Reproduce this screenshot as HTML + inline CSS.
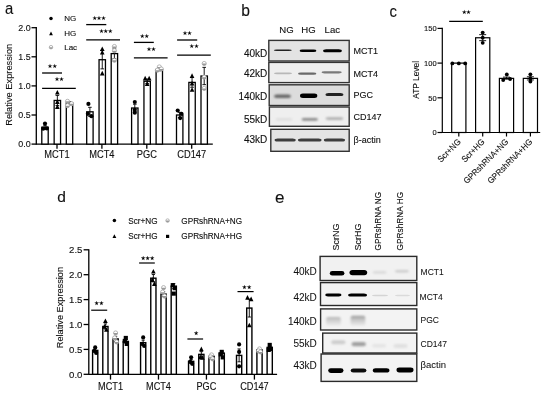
<!DOCTYPE html>
<html><head><meta charset="utf-8"><style>
html,body{margin:0;padding:0;background:#fff;}
svg{display:block;filter:blur(0.3px);}
text{font-family:'Liberation Sans', Arial, sans-serif;stroke:#111;stroke-width:0.12px;}
</style></head><body>
<svg width="550" height="393" viewBox="0 0 550 393">
<defs>
<filter id="b4" x="-20%" y="-100%" width="140%" height="300%"><feGaussianBlur stdDeviation="0.4"/></filter>
<filter id="b5" x="-20%" y="-100%" width="140%" height="300%"><feGaussianBlur stdDeviation="0.5"/></filter>
<filter id="b6" x="-20%" y="-100%" width="140%" height="300%"><feGaussianBlur stdDeviation="0.6"/></filter>
<filter id="b7" x="-20%" y="-100%" width="140%" height="300%"><feGaussianBlur stdDeviation="0.7"/></filter>
<filter id="b8" x="-20%" y="-100%" width="140%" height="300%"><feGaussianBlur stdDeviation="0.8"/></filter>
<linearGradient id="sm1" x1="0" y1="0" x2="0" y2="1"><stop offset="0" stop-color="#b4b4b4"/><stop offset="0.35" stop-color="#cfcfcf"/><stop offset="1" stop-color="#f0f0f0"/></linearGradient>
<linearGradient id="sm2" x1="0" y1="0" x2="0" y2="1"><stop offset="0" stop-color="#9a9a9a"/><stop offset="0.35" stop-color="#c4c4c4"/><stop offset="1" stop-color="#eeeeee"/></linearGradient>
<filter id="b10" x="-20%" y="-100%" width="140%" height="300%"><feGaussianBlur stdDeviation="1.0"/></filter>
</defs>
<rect width="550" height="393" fill="#fff"/>
<text x="0" y="0" font-size="16" text-anchor="start" fill="#111" transform="translate(5.10,14.20) scale(0.93,1)">a</text>
<line x1="36.30" y1="27.10" x2="36.30" y2="144.70" stroke="#000" stroke-width="1.3"/>
<line x1="31.50" y1="144.10" x2="36.30" y2="144.10" stroke="#000" stroke-width="1.3"/>
<text x="0" y="0" font-size="9.8" text-anchor="end" fill="#111" transform="translate(30.60,147.30) scale(0.91,1)">0.0</text>
<line x1="31.50" y1="115.00" x2="36.30" y2="115.00" stroke="#000" stroke-width="1.3"/>
<text x="0" y="0" font-size="9.8" text-anchor="end" fill="#111" transform="translate(30.60,118.20) scale(0.91,1)">0.5</text>
<line x1="31.50" y1="85.90" x2="36.30" y2="85.90" stroke="#000" stroke-width="1.3"/>
<text x="0" y="0" font-size="9.8" text-anchor="end" fill="#111" transform="translate(30.60,89.10) scale(0.91,1)">1.0</text>
<line x1="31.50" y1="56.80" x2="36.30" y2="56.80" stroke="#000" stroke-width="1.3"/>
<text x="0" y="0" font-size="9.8" text-anchor="end" fill="#111" transform="translate(30.60,60.00) scale(0.91,1)">1.5</text>
<line x1="31.50" y1="27.70" x2="36.30" y2="27.70" stroke="#000" stroke-width="1.3"/>
<text x="0" y="0" font-size="9.8" text-anchor="end" fill="#111" transform="translate(30.60,30.90) scale(0.91,1)">2.0</text>
<line x1="36.30" y1="144.10" x2="212.80" y2="144.10" stroke="#000" stroke-width="1.3"/>
<line x1="57.00" y1="144.10" x2="57.00" y2="148.70" stroke="#000" stroke-width="1.3"/>
<text x="0" y="0" font-size="10.0" text-anchor="middle" fill="#111" transform="translate(57.00,158.00) scale(0.93,1)">MCT1</text>
<line x1="101.90" y1="144.10" x2="101.90" y2="148.70" stroke="#000" stroke-width="1.3"/>
<text x="0" y="0" font-size="10.0" text-anchor="middle" fill="#111" transform="translate(101.90,158.00) scale(0.93,1)">MCT4</text>
<line x1="146.80" y1="144.10" x2="146.80" y2="148.70" stroke="#000" stroke-width="1.3"/>
<text x="0" y="0" font-size="10.0" text-anchor="middle" fill="#111" transform="translate(146.80,158.00) scale(0.93,1)">PGC</text>
<line x1="191.70" y1="144.10" x2="191.70" y2="148.70" stroke="#000" stroke-width="1.3"/>
<text x="0" y="0" font-size="10.0" text-anchor="middle" fill="#111" transform="translate(191.70,158.00) scale(0.93,1)">CD147</text>
<text x="0.00" y="0.00" font-size="9.3" text-anchor="middle" fill="#111" transform="translate(11.6,84.8) rotate(-90) scale(1,0.92)">Relative Expression</text>
<circle cx="51.00" cy="18.40" r="1.76" fill="#000"/>
<text x="64.20" y="21.40" font-size="8.0" text-anchor="start" fill="#111" >NG</text>
<path d="M51.00,31.43L52.89,35.21L49.11,35.21Z" fill="#000"/>
<text x="64.20" y="36.30" font-size="8.0" text-anchor="start" fill="#111" >HG</text>
<circle cx="51.00" cy="47.20" r="1.76" fill="#fff" stroke="#999" stroke-width="0.7"/>
<path d="M49.24,47.20A1.76,1.76 0 0 0 52.76,47.20Z" fill="#999"/>
<text x="64.20" y="50.10" font-size="8.0" text-anchor="start" fill="#111" >Lac</text>
<rect x="41.80" y="127.22" width="6.40" height="16.88" fill="#fff" stroke="#000" stroke-width="1.3"/>
<line x1="45.00" y1="125.25" x2="45.00" y2="129.19" stroke="#000" stroke-width="0.9"/>
<line x1="43.20" y1="125.25" x2="46.80" y2="125.25" stroke="#000" stroke-width="0.9"/>
<line x1="43.20" y1="129.19" x2="46.80" y2="129.19" stroke="#000" stroke-width="0.9"/>
<circle cx="45.00" cy="123.61" r="2.08" fill="#000"/>
<circle cx="43.20" cy="128.68" r="2.08" fill="#000"/>
<circle cx="46.80" cy="128.39" r="2.08" fill="#000"/>
<rect x="54.15" y="100.45" width="6.40" height="43.65" fill="#fff" stroke="#000" stroke-width="1.3"/>
<line x1="57.35" y1="95.42" x2="57.35" y2="105.48" stroke="#000" stroke-width="0.9"/>
<line x1="55.55" y1="95.42" x2="59.15" y2="95.42" stroke="#000" stroke-width="0.9"/>
<line x1="55.55" y1="105.48" x2="59.15" y2="105.48" stroke="#000" stroke-width="0.9"/>
<path d="M57.35,89.90L59.69,94.58L55.01,94.58Z" fill="#000"/>
<path d="M57.35,99.21L59.69,103.89L55.01,103.89Z" fill="#000"/>
<path d="M57.35,104.22L59.69,108.90L55.01,108.90Z" fill="#000"/>
<rect x="66.30" y="103.07" width="6.40" height="41.03" fill="#fff" stroke="#000" stroke-width="1.3"/>
<line x1="69.50" y1="101.56" x2="69.50" y2="104.58" stroke="#000" stroke-width="0.9"/>
<line x1="67.70" y1="101.56" x2="71.30" y2="101.56" stroke="#000" stroke-width="0.9"/>
<line x1="67.70" y1="104.58" x2="71.30" y2="104.58" stroke="#000" stroke-width="0.9"/>
<circle cx="67.50" cy="101.32" r="2.08" fill="#fff" stroke="#999" stroke-width="0.7"/>
<path d="M65.42,101.32A2.08,2.08 0 0 0 69.58,101.32Z" fill="#999"/>
<circle cx="71.50" cy="103.65" r="2.08" fill="#fff" stroke="#999" stroke-width="0.7"/>
<path d="M69.42,103.65A2.08,2.08 0 0 0 73.58,103.65Z" fill="#999"/>
<circle cx="67.50" cy="105.69" r="2.08" fill="#fff" stroke="#999" stroke-width="0.7"/>
<path d="M65.42,105.69A2.08,2.08 0 0 0 69.58,105.69Z" fill="#999"/>
<rect x="86.70" y="111.80" width="6.40" height="32.30" fill="#fff" stroke="#000" stroke-width="1.3"/>
<line x1="89.90" y1="107.30" x2="89.90" y2="116.30" stroke="#000" stroke-width="0.9"/>
<line x1="88.10" y1="107.30" x2="91.70" y2="107.30" stroke="#000" stroke-width="0.9"/>
<line x1="88.10" y1="116.30" x2="91.70" y2="116.30" stroke="#000" stroke-width="0.9"/>
<circle cx="88.40" cy="103.94" r="2.08" fill="#000"/>
<circle cx="87.90" cy="113.84" r="2.08" fill="#000"/>
<circle cx="91.40" cy="116.16" r="2.08" fill="#000"/>
<rect x="99.05" y="59.71" width="6.40" height="84.39" fill="#fff" stroke="#000" stroke-width="1.3"/>
<line x1="102.25" y1="50.55" x2="102.25" y2="68.87" stroke="#000" stroke-width="0.9"/>
<line x1="100.45" y1="50.55" x2="104.05" y2="50.55" stroke="#000" stroke-width="0.9"/>
<line x1="100.45" y1="68.87" x2="104.05" y2="68.87" stroke="#000" stroke-width="0.9"/>
<path d="M102.25,46.43L104.59,51.11L99.91,51.11Z" fill="#000"/>
<path d="M102.25,49.92L104.59,54.60L99.91,54.60Z" fill="#000"/>
<path d="M102.25,70.87L104.59,75.55L99.91,75.55Z" fill="#000"/>
<rect x="111.20" y="53.60" width="6.40" height="90.50" fill="#fff" stroke="#000" stroke-width="1.3"/>
<line x1="114.40" y1="48.70" x2="114.40" y2="58.50" stroke="#000" stroke-width="0.9"/>
<line x1="112.60" y1="48.70" x2="116.20" y2="48.70" stroke="#000" stroke-width="0.9"/>
<line x1="112.60" y1="58.50" x2="116.20" y2="58.50" stroke="#000" stroke-width="0.9"/>
<circle cx="114.40" cy="46.50" r="2.08" fill="#fff" stroke="#999" stroke-width="0.7"/>
<path d="M112.32,46.50A2.08,2.08 0 0 0 116.48,46.50Z" fill="#999"/>
<circle cx="114.40" cy="50.69" r="2.08" fill="#fff" stroke="#999" stroke-width="0.7"/>
<path d="M112.32,50.69A2.08,2.08 0 0 0 116.48,50.69Z" fill="#999"/>
<circle cx="114.40" cy="60.29" r="2.08" fill="#fff" stroke="#999" stroke-width="0.7"/>
<path d="M112.32,60.29A2.08,2.08 0 0 0 116.48,60.29Z" fill="#999"/>
<rect x="131.60" y="108.02" width="6.40" height="36.08" fill="#fff" stroke="#000" stroke-width="1.3"/>
<line x1="134.80" y1="104.20" x2="134.80" y2="111.83" stroke="#000" stroke-width="0.9"/>
<line x1="133.00" y1="104.20" x2="136.60" y2="104.20" stroke="#000" stroke-width="0.9"/>
<line x1="133.00" y1="111.83" x2="136.60" y2="111.83" stroke="#000" stroke-width="0.9"/>
<circle cx="134.80" cy="102.02" r="2.08" fill="#000"/>
<circle cx="134.80" cy="109.76" r="2.08" fill="#000"/>
<circle cx="134.80" cy="112.67" r="2.08" fill="#000"/>
<rect x="143.95" y="81.24" width="6.40" height="62.86" fill="#fff" stroke="#000" stroke-width="1.3"/>
<line x1="147.15" y1="79.03" x2="147.15" y2="83.46" stroke="#000" stroke-width="0.9"/>
<line x1="145.35" y1="79.03" x2="148.95" y2="79.03" stroke="#000" stroke-width="0.9"/>
<line x1="145.35" y1="83.46" x2="148.95" y2="83.46" stroke="#000" stroke-width="0.9"/>
<path d="M145.15,75.82L147.49,80.50L142.81,80.50Z" fill="#000"/>
<path d="M149.15,75.82L151.49,80.50L146.81,80.50Z" fill="#000"/>
<path d="M147.15,81.35L149.49,86.03L144.81,86.03Z" fill="#000"/>
<rect x="156.10" y="69.60" width="6.40" height="74.50" fill="#fff" stroke="#000" stroke-width="1.3"/>
<line x1="159.30" y1="68.46" x2="159.30" y2="70.75" stroke="#000" stroke-width="0.9"/>
<line x1="157.50" y1="68.46" x2="161.10" y2="68.46" stroke="#000" stroke-width="0.9"/>
<line x1="157.50" y1="70.75" x2="161.10" y2="70.75" stroke="#000" stroke-width="0.9"/>
<circle cx="159.30" cy="66.93" r="2.08" fill="#fff" stroke="#999" stroke-width="0.7"/>
<path d="M157.22,66.93A2.08,2.08 0 0 0 161.38,66.93Z" fill="#999"/>
<circle cx="161.30" cy="69.02" r="2.08" fill="#fff" stroke="#999" stroke-width="0.7"/>
<path d="M159.22,69.02A2.08,2.08 0 0 0 163.38,69.02Z" fill="#999"/>
<circle cx="157.30" cy="70.19" r="2.08" fill="#fff" stroke="#999" stroke-width="0.7"/>
<path d="M155.22,70.19A2.08,2.08 0 0 0 159.38,70.19Z" fill="#999"/>
<rect x="176.50" y="115.00" width="6.40" height="29.10" fill="#fff" stroke="#000" stroke-width="1.3"/>
<line x1="179.70" y1="112.37" x2="179.70" y2="117.63" stroke="#000" stroke-width="0.9"/>
<line x1="177.90" y1="112.37" x2="181.50" y2="112.37" stroke="#000" stroke-width="0.9"/>
<line x1="177.90" y1="117.63" x2="181.50" y2="117.63" stroke="#000" stroke-width="0.9"/>
<circle cx="177.70" cy="110.52" r="2.08" fill="#000"/>
<circle cx="181.50" cy="113.72" r="2.08" fill="#000"/>
<circle cx="180.20" cy="118.08" r="2.08" fill="#000"/>
<rect x="188.85" y="82.41" width="6.40" height="61.69" fill="#fff" stroke="#000" stroke-width="1.3"/>
<line x1="192.05" y1="77.56" x2="192.05" y2="87.25" stroke="#000" stroke-width="0.9"/>
<line x1="190.25" y1="77.56" x2="193.85" y2="77.56" stroke="#000" stroke-width="0.9"/>
<line x1="190.25" y1="87.25" x2="193.85" y2="87.25" stroke="#000" stroke-width="0.9"/>
<path d="M192.05,73.20L194.39,77.88L189.71,77.88Z" fill="#000"/>
<path d="M192.05,80.76L194.39,85.44L189.71,85.44Z" fill="#000"/>
<path d="M192.05,87.17L194.39,91.85L189.71,91.85Z" fill="#000"/>
<rect x="201.00" y="76.01" width="6.40" height="68.09" fill="#fff" stroke="#000" stroke-width="1.3"/>
<line x1="204.20" y1="67.36" x2="204.20" y2="84.65" stroke="#000" stroke-width="0.9"/>
<line x1="202.40" y1="67.36" x2="206.00" y2="67.36" stroke="#000" stroke-width="0.9"/>
<line x1="202.40" y1="84.65" x2="206.00" y2="84.65" stroke="#000" stroke-width="0.9"/>
<circle cx="204.20" cy="63.49" r="2.08" fill="#fff" stroke="#999" stroke-width="0.7"/>
<path d="M202.12,63.49A2.08,2.08 0 0 0 206.28,63.49Z" fill="#999"/>
<circle cx="204.20" cy="77.17" r="2.08" fill="#fff" stroke="#999" stroke-width="0.7"/>
<path d="M202.12,77.17A2.08,2.08 0 0 0 206.28,77.17Z" fill="#999"/>
<circle cx="204.20" cy="88.40" r="2.08" fill="#fff" stroke="#999" stroke-width="0.7"/>
<path d="M202.12,88.40A2.08,2.08 0 0 0 206.28,88.40Z" fill="#999"/>
<line x1="42.10" y1="73.00" x2="62.00" y2="73.00" stroke="#000" stroke-width="1.3"/>
<text x="50.00" y="68.12" font-size="5.6" text-anchor="middle" fill="#000" style="font-family:'DejaVu Sans',sans-serif">&#9733;</text>
<text x="54.70" y="68.12" font-size="5.6" text-anchor="middle" fill="#000" style="font-family:'DejaVu Sans',sans-serif">&#9733;</text>
<line x1="42.10" y1="88.30" x2="75.80" y2="88.30" stroke="#000" stroke-width="1.3"/>
<text x="56.90" y="81.12" font-size="5.6" text-anchor="middle" fill="#000" style="font-family:'DejaVu Sans',sans-serif">&#9733;</text>
<text x="61.40" y="81.12" font-size="5.6" text-anchor="middle" fill="#000" style="font-family:'DejaVu Sans',sans-serif">&#9733;</text>
<line x1="86.20" y1="24.60" x2="106.30" y2="24.60" stroke="#000" stroke-width="1.3"/>
<text x="94.70" y="19.92" font-size="5.6" text-anchor="middle" fill="#000" style="font-family:'DejaVu Sans',sans-serif">&#9733;</text>
<text x="99.00" y="19.92" font-size="5.6" text-anchor="middle" fill="#000" style="font-family:'DejaVu Sans',sans-serif">&#9733;</text>
<text x="103.60" y="19.92" font-size="5.6" text-anchor="middle" fill="#000" style="font-family:'DejaVu Sans',sans-serif">&#9733;</text>
<line x1="86.20" y1="39.80" x2="120.00" y2="39.80" stroke="#000" stroke-width="1.3"/>
<text x="101.50" y="33.12" font-size="5.6" text-anchor="middle" fill="#000" style="font-family:'DejaVu Sans',sans-serif">&#9733;</text>
<text x="105.70" y="33.12" font-size="5.6" text-anchor="middle" fill="#000" style="font-family:'DejaVu Sans',sans-serif">&#9733;</text>
<text x="110.30" y="33.12" font-size="5.6" text-anchor="middle" fill="#000" style="font-family:'DejaVu Sans',sans-serif">&#9733;</text>
<line x1="133.90" y1="42.40" x2="153.80" y2="42.40" stroke="#000" stroke-width="1.3"/>
<text x="142.20" y="38.12" font-size="5.6" text-anchor="middle" fill="#000" style="font-family:'DejaVu Sans',sans-serif">&#9733;</text>
<text x="146.70" y="38.12" font-size="5.6" text-anchor="middle" fill="#000" style="font-family:'DejaVu Sans',sans-serif">&#9733;</text>
<line x1="133.90" y1="57.90" x2="167.60" y2="57.90" stroke="#000" stroke-width="1.3"/>
<text x="149.10" y="51.12" font-size="5.6" text-anchor="middle" fill="#000" style="font-family:'DejaVu Sans',sans-serif">&#9733;</text>
<text x="153.60" y="51.12" font-size="5.6" text-anchor="middle" fill="#000" style="font-family:'DejaVu Sans',sans-serif">&#9733;</text>
<line x1="177.10" y1="40.00" x2="197.20" y2="40.00" stroke="#000" stroke-width="1.3"/>
<text x="185.00" y="35.32" font-size="5.6" text-anchor="middle" fill="#000" style="font-family:'DejaVu Sans',sans-serif">&#9733;</text>
<text x="189.60" y="35.32" font-size="5.6" text-anchor="middle" fill="#000" style="font-family:'DejaVu Sans',sans-serif">&#9733;</text>
<line x1="177.10" y1="55.20" x2="210.80" y2="55.20" stroke="#000" stroke-width="1.3"/>
<text x="191.80" y="48.42" font-size="5.6" text-anchor="middle" fill="#000" style="font-family:'DejaVu Sans',sans-serif">&#9733;</text>
<text x="196.40" y="48.42" font-size="5.6" text-anchor="middle" fill="#000" style="font-family:'DejaVu Sans',sans-serif">&#9733;</text>
<text x="0" y="0" font-size="16.5" text-anchor="start" fill="#111" transform="translate(241.30,16.20) scale(0.95,1)">b</text>
<text x="286.40" y="33.40" font-size="9.6" text-anchor="middle" fill="#111" >NG</text>
<text x="308.40" y="33.40" font-size="9.6" text-anchor="middle" fill="#111" >HG</text>
<text x="332.30" y="33.40" font-size="9.6" text-anchor="middle" fill="#111" >Lac</text>
<rect x="268.80" y="40.40" width="80.40" height="20.60" fill="#e3e3e3" stroke="#333" stroke-width="1.4"/>
<text x="267.30" y="56.60" font-size="10" text-anchor="end" fill="#111" >40kD</text>
<text x="353.60" y="53.70" font-size="9" text-anchor="start" fill="#111" >MCT1</text>
<rect x="268.80" y="62.40" width="80.40" height="20.20" fill="#eeeeee" stroke="#333" stroke-width="1.4"/>
<text x="267.30" y="77.40" font-size="10" text-anchor="end" fill="#111" >42kD</text>
<text x="353.60" y="77.00" font-size="9" text-anchor="start" fill="#111" >MCT4</text>
<rect x="269.20" y="84.80" width="80.00" height="20.70" fill="#dcdcdc" stroke="#333" stroke-width="1.4"/>
<text x="267.30" y="100.20" font-size="10" text-anchor="end" fill="#111" >140kD</text>
<text x="353.60" y="97.60" font-size="9" text-anchor="start" fill="#111" >PGC</text>
<rect x="269.40" y="107.00" width="79.80" height="19.30" fill="#efefef" stroke="#333" stroke-width="1.4"/>
<text x="267.30" y="123.00" font-size="10" text-anchor="end" fill="#111" >55kD</text>
<text x="353.60" y="119.60" font-size="9" text-anchor="start" fill="#111" >CD147</text>
<rect x="270.80" y="129.30" width="78.40" height="22.00" fill="#e4e4e4" stroke="#333" stroke-width="1.4"/>
<text x="267.30" y="143.40" font-size="10" text-anchor="end" fill="#111" >43kD</text>
<text x="353.60" y="142.60" font-size="9" text-anchor="start" fill="#111" >β-actin</text>
<rect x="273.80" y="49.60" width="18.00" height="1.40" rx="3.00" ry="0.70" fill="#222" opacity="1.0" filter="url(#b4)"/>
<rect x="299.60" y="49.60" width="16.80" height="2.40" rx="2.80" ry="1.20" fill="#000" opacity="1.0" filter="url(#b5)"/>
<rect x="323.10" y="49.30" width="18.70" height="3.00" rx="3.00" ry="1.50" fill="#000" opacity="1.0" filter="url(#b5)"/>
<rect x="274.00" y="72.60" width="18.00" height="1.60" rx="3.00" ry="0.80" fill="#b8b8b8" opacity="1.0" filter="url(#b6)"/>
<rect x="298.00" y="72.60" width="18.40" height="2.20" rx="3.00" ry="1.10" fill="#6a6a6a" opacity="1.0" filter="url(#b6)"/>
<rect x="321.50" y="71.20" width="20.30" height="2.20" rx="3.00" ry="1.10" fill="#7a7a7a" opacity="1.0" filter="url(#b6)"/>
<rect x="274.00" y="94.50" width="17.00" height="3.40" rx="2.83" ry="1.70" fill="#666" opacity="1.0" filter="url(#b8)"/>
<rect x="300.00" y="93.60" width="17.30" height="4.40" rx="2.88" ry="2.20" fill="#000" opacity="1.0" filter="url(#b7)"/>
<rect x="325.50" y="92.90" width="17.90" height="3.20" rx="2.98" ry="1.60" fill="#222" opacity="1.0" filter="url(#b7)"/>
<rect x="275.50" y="118.30" width="17.10" height="2.20" rx="2.85" ry="1.10" fill="#dcdcdc" opacity="1.0" filter="url(#b8)"/>
<rect x="301.60" y="118.00" width="16.40" height="2.80" rx="2.73" ry="1.40" fill="#8a8a8a" opacity="1.0" filter="url(#b8)"/>
<rect x="325.50" y="117.30" width="17.90" height="2.60" rx="2.98" ry="1.30" fill="#b0b0b0" opacity="1.0" filter="url(#b8)"/>
<rect x="274.60" y="138.50" width="21.10" height="3.00" rx="3.00" ry="1.50" fill="#3c3c3c" opacity="1.0" filter="url(#b6)"/>
<rect x="298.00" y="138.50" width="23.50" height="3.00" rx="3.00" ry="1.50" fill="#3c3c3c" opacity="1.0" filter="url(#b6)"/>
<rect x="323.90" y="138.50" width="21.10" height="3.00" rx="3.00" ry="1.50" fill="#3c3c3c" opacity="1.0" filter="url(#b6)"/>
<text x="0" y="0" font-size="17.2" text-anchor="start" fill="#111" transform="translate(389.50,16.90) scale(0.86,1)">c</text>
<line x1="442.30" y1="27.80" x2="442.30" y2="133.10" stroke="#000" stroke-width="1.2"/>
<line x1="437.50" y1="132.50" x2="442.30" y2="132.50" stroke="#000" stroke-width="1.2"/>
<text x="436.60" y="135.20" font-size="7.5" text-anchor="end" fill="#111" >0</text>
<line x1="437.50" y1="97.80" x2="442.30" y2="97.80" stroke="#000" stroke-width="1.2"/>
<text x="436.60" y="100.50" font-size="7.5" text-anchor="end" fill="#111" >50</text>
<line x1="437.50" y1="63.10" x2="442.30" y2="63.10" stroke="#000" stroke-width="1.2"/>
<text x="436.60" y="65.80" font-size="7.5" text-anchor="end" fill="#111" >100</text>
<line x1="437.50" y1="28.40" x2="442.30" y2="28.40" stroke="#000" stroke-width="1.2"/>
<text x="436.60" y="31.10" font-size="7.5" text-anchor="end" fill="#111" >150</text>
<line x1="442.30" y1="132.50" x2="540.20" y2="132.50" stroke="#000" stroke-width="1.2"/>
<text x="0.00" y="0.00" font-size="8.4" text-anchor="middle" fill="#111" transform="translate(419.2,79.9) rotate(-90)">ATP Level</text>
<rect x="451.70" y="63.10" width="14.20" height="69.40" fill="#fff" stroke="#000" stroke-width="1.2"/>
<line x1="458.80" y1="132.50" x2="458.80" y2="136.50" stroke="#000" stroke-width="1.2"/>
<text x="0" y="0" font-size="8.6" text-anchor="end" fill="#111" transform="translate(461.30,142.40) rotate(-45) scale(0.93,1)">Scr+NG</text>
<rect x="475.60" y="37.77" width="14.20" height="94.73" fill="#fff" stroke="#000" stroke-width="1.2"/>
<line x1="482.70" y1="132.50" x2="482.70" y2="136.50" stroke="#000" stroke-width="1.2"/>
<text x="0" y="0" font-size="8.6" text-anchor="end" fill="#111" transform="translate(485.20,142.40) rotate(-45) scale(0.93,1)">Scr+HG</text>
<line x1="482.70" y1="34.65" x2="482.70" y2="40.66" stroke="#000" stroke-width="0.9"/>
<line x1="479.20" y1="34.65" x2="486.20" y2="34.65" stroke="#000" stroke-width="0.9"/>
<line x1="479.20" y1="40.66" x2="486.20" y2="40.66" stroke="#000" stroke-width="0.9"/>
<rect x="499.40" y="78.37" width="14.20" height="54.13" fill="#fff" stroke="#000" stroke-width="1.2"/>
<line x1="506.50" y1="132.50" x2="506.50" y2="136.50" stroke="#000" stroke-width="1.2"/>
<text x="0" y="0" font-size="8.6" text-anchor="end" fill="#111" transform="translate(509.00,142.40) rotate(-45) scale(0.93,1)">GPRshRNA+NG</text>
<line x1="506.50" y1="77.13" x2="506.50" y2="79.15" stroke="#000" stroke-width="0.9"/>
<line x1="503.00" y1="77.13" x2="510.00" y2="77.13" stroke="#000" stroke-width="0.9"/>
<line x1="503.00" y1="79.15" x2="510.00" y2="79.15" stroke="#000" stroke-width="0.9"/>
<rect x="523.30" y="78.37" width="14.20" height="54.13" fill="#fff" stroke="#000" stroke-width="1.2"/>
<line x1="530.40" y1="132.50" x2="530.40" y2="136.50" stroke="#000" stroke-width="1.2"/>
<text x="0" y="0" font-size="8.6" text-anchor="end" fill="#111" transform="translate(532.90,142.40) rotate(-45) scale(0.93,1)">GPRshRNA+HG</text>
<line x1="530.40" y1="76.77" x2="530.40" y2="79.97" stroke="#000" stroke-width="0.9"/>
<line x1="526.90" y1="76.77" x2="533.90" y2="76.77" stroke="#000" stroke-width="0.9"/>
<line x1="526.90" y1="79.97" x2="533.90" y2="79.97" stroke="#000" stroke-width="0.9"/>
<circle cx="452.30" cy="63.40" r="1.92" fill="#000"/>
<circle cx="458.80" cy="63.40" r="1.92" fill="#000"/>
<circle cx="465.20" cy="63.40" r="1.92" fill="#000"/>
<circle cx="482.70" cy="32.60" r="1.92" fill="#000"/>
<circle cx="482.70" cy="37.70" r="1.92" fill="#000"/>
<circle cx="482.70" cy="42.80" r="1.92" fill="#000"/>
<circle cx="506.80" cy="74.50" r="1.92" fill="#000"/>
<circle cx="503.20" cy="80.00" r="1.92" fill="#000"/>
<circle cx="510.10" cy="79.00" r="1.92" fill="#000"/>
<circle cx="530.40" cy="74.30" r="1.92" fill="#000"/>
<circle cx="530.40" cy="78.50" r="1.92" fill="#000"/>
<circle cx="530.40" cy="81.50" r="1.92" fill="#000"/>
<line x1="449.20" y1="21.40" x2="482.80" y2="21.40" stroke="#000" stroke-width="1.1"/>
<text x="464.20" y="14.22" font-size="5.6" text-anchor="middle" fill="#000" style="font-family:'DejaVu Sans',sans-serif">&#9733;</text>
<text x="468.40" y="14.22" font-size="5.6" text-anchor="middle" fill="#000" style="font-family:'DejaVu Sans',sans-serif">&#9733;</text>
<text x="57.20" y="202.00" font-size="15.5" text-anchor="start" fill="#111" >d</text>
<line x1="88.80" y1="249.20" x2="88.80" y2="374.90" stroke="#000" stroke-width="1.3"/>
<line x1="83.60" y1="374.30" x2="88.80" y2="374.30" stroke="#000" stroke-width="1.3"/>
<text x="82.40" y="377.70" font-size="9.6" text-anchor="end" fill="#111" >0.0</text>
<line x1="83.60" y1="349.40" x2="88.80" y2="349.40" stroke="#000" stroke-width="1.3"/>
<text x="82.40" y="352.80" font-size="9.6" text-anchor="end" fill="#111" >0.5</text>
<line x1="83.60" y1="324.50" x2="88.80" y2="324.50" stroke="#000" stroke-width="1.3"/>
<text x="82.40" y="327.90" font-size="9.6" text-anchor="end" fill="#111" >1.0</text>
<line x1="83.60" y1="299.60" x2="88.80" y2="299.60" stroke="#000" stroke-width="1.3"/>
<text x="82.40" y="303.00" font-size="9.6" text-anchor="end" fill="#111" >1.5</text>
<line x1="83.60" y1="274.70" x2="88.80" y2="274.70" stroke="#000" stroke-width="1.3"/>
<text x="82.40" y="278.10" font-size="9.6" text-anchor="end" fill="#111" >2.0</text>
<line x1="83.60" y1="249.80" x2="88.80" y2="249.80" stroke="#000" stroke-width="1.3"/>
<text x="82.40" y="253.20" font-size="9.6" text-anchor="end" fill="#111" >2.5</text>
<line x1="88.80" y1="374.30" x2="277.10" y2="374.30" stroke="#000" stroke-width="1.3"/>
<line x1="110.50" y1="374.30" x2="110.50" y2="379.60" stroke="#000" stroke-width="1.3"/>
<text x="0" y="0" font-size="10.2" text-anchor="middle" fill="#111" transform="translate(110.50,389.7) scale(0.9,1)">MCT1</text>
<line x1="158.47" y1="374.30" x2="158.47" y2="379.60" stroke="#000" stroke-width="1.3"/>
<text x="0" y="0" font-size="10.2" text-anchor="middle" fill="#111" transform="translate(158.47,389.7) scale(0.9,1)">MCT4</text>
<line x1="206.44" y1="374.30" x2="206.44" y2="379.60" stroke="#000" stroke-width="1.3"/>
<text x="0" y="0" font-size="10.2" text-anchor="middle" fill="#111" transform="translate(206.44,389.7) scale(0.9,1)">PGC</text>
<line x1="254.41" y1="374.30" x2="254.41" y2="379.60" stroke="#000" stroke-width="1.3"/>
<text x="0" y="0" font-size="10.2" text-anchor="middle" fill="#111" transform="translate(254.41,389.7) scale(0.9,1)">CD147</text>
<text x="0.00" y="0.00" font-size="9.2" text-anchor="middle" fill="#111" transform="translate(62.8,307.6) rotate(-90) scale(1,0.95)">Relative Expression</text>
<circle cx="114.40" cy="220.60" r="1.76" fill="#000"/>
<text x="128.30" y="223.60" font-size="8.2" text-anchor="start" fill="#111" >Scr+NG</text>
<path d="M114.40,234.13L116.29,237.91L112.51,237.91Z" fill="#000"/>
<text x="128.30" y="239.40" font-size="8.2" text-anchor="start" fill="#111" >Scr+HG</text>
<circle cx="167.60" cy="220.60" r="1.76" fill="#fff" stroke="#999" stroke-width="0.7"/>
<path d="M165.84,220.60A1.76,1.76 0 0 0 169.36,220.60Z" fill="#999"/>
<text x="181.30" y="223.60" font-size="8.2" text-anchor="start" fill="#111" >GPRshRNA+NG</text>
<rect x="166.00" y="234.80" width="3.20" height="3.20" fill="#000"/>
<text x="181.30" y="239.40" font-size="8.2" text-anchor="start" fill="#111" >GPRshRNA+HG</text>
<rect x="92.60" y="350.40" width="5.20" height="23.90" fill="#fff" stroke="#000" stroke-width="1.4"/>
<line x1="95.20" y1="348.80" x2="95.20" y2="352.00" stroke="#000" stroke-width="0.9"/>
<line x1="93.60" y1="348.80" x2="96.80" y2="348.80" stroke="#000" stroke-width="0.9"/>
<line x1="93.60" y1="352.00" x2="96.80" y2="352.00" stroke="#000" stroke-width="0.9"/>
<circle cx="95.20" cy="347.41" r="2.08" fill="#000"/>
<circle cx="94.20" cy="350.89" r="2.08" fill="#000"/>
<circle cx="96.20" cy="352.89" r="2.08" fill="#000"/>
<rect x="102.80" y="326.49" width="5.20" height="47.81" fill="#fff" stroke="#000" stroke-width="1.4"/>
<line x1="105.40" y1="323.92" x2="105.40" y2="329.06" stroke="#000" stroke-width="0.9"/>
<line x1="103.80" y1="323.92" x2="107.00" y2="323.92" stroke="#000" stroke-width="0.9"/>
<line x1="103.80" y1="329.06" x2="107.00" y2="329.06" stroke="#000" stroke-width="0.9"/>
<path d="M105.40,318.41L107.74,323.09L103.06,323.09Z" fill="#000"/>
<path d="M104.40,324.18L106.74,328.86L102.06,328.86Z" fill="#000"/>
<path d="M106.40,327.17L108.74,331.85L104.06,331.85Z" fill="#000"/>
<rect x="113.00" y="338.94" width="5.20" height="35.36" fill="#fff" stroke="#000" stroke-width="1.4"/>
<line x1="115.60" y1="336.35" x2="115.60" y2="341.54" stroke="#000" stroke-width="0.9"/>
<line x1="114.00" y1="336.35" x2="117.20" y2="336.35" stroke="#000" stroke-width="0.9"/>
<line x1="114.00" y1="341.54" x2="117.20" y2="341.54" stroke="#000" stroke-width="0.9"/>
<circle cx="115.60" cy="332.97" r="2.08" fill="#fff" stroke="#999" stroke-width="0.7"/>
<path d="M113.52,332.97A2.08,2.08 0 0 0 117.68,332.97Z" fill="#999"/>
<circle cx="114.60" cy="337.95" r="2.08" fill="#fff" stroke="#999" stroke-width="0.7"/>
<path d="M112.52,337.95A2.08,2.08 0 0 0 116.68,337.95Z" fill="#999"/>
<circle cx="116.60" cy="341.93" r="2.08" fill="#fff" stroke="#999" stroke-width="0.7"/>
<path d="M114.52,341.93A2.08,2.08 0 0 0 118.68,341.93Z" fill="#999"/>
<rect x="123.20" y="341.43" width="5.20" height="32.87" fill="#fff" stroke="#000" stroke-width="1.4"/>
<line x1="125.80" y1="339.71" x2="125.80" y2="343.16" stroke="#000" stroke-width="0.9"/>
<line x1="124.20" y1="339.71" x2="127.40" y2="339.71" stroke="#000" stroke-width="0.9"/>
<line x1="124.20" y1="343.16" x2="127.40" y2="343.16" stroke="#000" stroke-width="0.9"/>
<rect x="123.72" y="335.87" width="4.16" height="4.16" fill="#000"/>
<rect x="122.72" y="338.85" width="4.16" height="4.16" fill="#000"/>
<rect x="124.72" y="341.84" width="4.16" height="4.16" fill="#000"/>
<rect x="140.57" y="342.68" width="5.20" height="31.62" fill="#fff" stroke="#000" stroke-width="1.4"/>
<line x1="143.17" y1="340.12" x2="143.17" y2="345.23" stroke="#000" stroke-width="0.9"/>
<line x1="141.57" y1="340.12" x2="144.77" y2="340.12" stroke="#000" stroke-width="0.9"/>
<line x1="141.57" y1="345.23" x2="144.77" y2="345.23" stroke="#000" stroke-width="0.9"/>
<circle cx="143.17" cy="337.45" r="2.08" fill="#000"/>
<circle cx="142.17" cy="343.92" r="2.08" fill="#000"/>
<circle cx="144.17" cy="345.91" r="2.08" fill="#000"/>
<rect x="150.77" y="278.19" width="5.20" height="96.11" fill="#fff" stroke="#000" stroke-width="1.4"/>
<line x1="153.37" y1="274.52" x2="153.37" y2="281.86" stroke="#000" stroke-width="0.9"/>
<line x1="151.77" y1="274.52" x2="154.97" y2="274.52" stroke="#000" stroke-width="0.9"/>
<line x1="151.77" y1="281.86" x2="154.97" y2="281.86" stroke="#000" stroke-width="0.9"/>
<path d="M153.37,268.90L155.71,273.58L151.03,273.58Z" fill="#000"/>
<path d="M152.37,277.37L154.71,282.05L150.03,282.05Z" fill="#000"/>
<path d="M154.37,281.35L156.71,286.03L152.03,286.03Z" fill="#000"/>
<rect x="160.97" y="294.12" width="5.20" height="80.18" fill="#fff" stroke="#000" stroke-width="1.4"/>
<line x1="163.57" y1="291.68" x2="163.57" y2="296.57" stroke="#000" stroke-width="0.9"/>
<line x1="161.97" y1="291.68" x2="165.17" y2="291.68" stroke="#000" stroke-width="0.9"/>
<line x1="161.97" y1="296.57" x2="165.17" y2="296.57" stroke="#000" stroke-width="0.9"/>
<circle cx="163.57" cy="287.65" r="2.08" fill="#fff" stroke="#999" stroke-width="0.7"/>
<path d="M161.49,287.65A2.08,2.08 0 0 0 165.65,287.65Z" fill="#999"/>
<circle cx="162.57" cy="292.13" r="2.08" fill="#fff" stroke="#999" stroke-width="0.7"/>
<path d="M160.49,292.13A2.08,2.08 0 0 0 164.65,292.13Z" fill="#999"/>
<circle cx="164.57" cy="296.11" r="2.08" fill="#fff" stroke="#999" stroke-width="0.7"/>
<path d="M162.49,296.11A2.08,2.08 0 0 0 166.65,296.11Z" fill="#999"/>
<rect x="171.17" y="286.15" width="5.20" height="88.15" fill="#fff" stroke="#000" stroke-width="1.4"/>
<line x1="173.77" y1="283.68" x2="173.77" y2="288.63" stroke="#000" stroke-width="0.9"/>
<line x1="172.17" y1="283.68" x2="175.37" y2="283.68" stroke="#000" stroke-width="0.9"/>
<line x1="172.17" y1="288.63" x2="175.37" y2="288.63" stroke="#000" stroke-width="0.9"/>
<rect x="170.69" y="283.08" width="4.16" height="4.16" fill="#000"/>
<rect x="172.69" y="286.07" width="4.16" height="4.16" fill="#000"/>
<rect x="171.69" y="291.54" width="4.16" height="4.16" fill="#000"/>
<rect x="188.54" y="361.35" width="5.20" height="12.95" fill="#fff" stroke="#000" stroke-width="1.4"/>
<line x1="191.14" y1="359.44" x2="191.14" y2="363.27" stroke="#000" stroke-width="0.9"/>
<line x1="189.54" y1="359.44" x2="192.74" y2="359.44" stroke="#000" stroke-width="0.9"/>
<line x1="189.54" y1="363.27" x2="192.74" y2="363.27" stroke="#000" stroke-width="0.9"/>
<circle cx="191.14" cy="357.37" r="2.08" fill="#000"/>
<circle cx="190.14" cy="361.85" r="2.08" fill="#000"/>
<circle cx="192.14" cy="363.84" r="2.08" fill="#000"/>
<rect x="198.74" y="354.38" width="5.20" height="19.92" fill="#fff" stroke="#000" stroke-width="1.4"/>
<line x1="201.34" y1="351.64" x2="201.34" y2="357.12" stroke="#000" stroke-width="0.9"/>
<line x1="199.74" y1="351.64" x2="202.94" y2="351.64" stroke="#000" stroke-width="0.9"/>
<line x1="199.74" y1="357.12" x2="202.94" y2="357.12" stroke="#000" stroke-width="0.9"/>
<path d="M201.34,346.59L203.68,351.27L199.00,351.27Z" fill="#000"/>
<path d="M200.34,354.56L202.68,359.24L198.00,359.24Z" fill="#000"/>
<path d="M202.34,355.06L204.68,359.74L200.00,359.74Z" fill="#000"/>
<rect x="208.94" y="356.37" width="5.20" height="17.93" fill="#fff" stroke="#000" stroke-width="1.4"/>
<line x1="211.54" y1="355.22" x2="211.54" y2="357.52" stroke="#000" stroke-width="0.9"/>
<line x1="209.94" y1="355.22" x2="213.14" y2="355.22" stroke="#000" stroke-width="0.9"/>
<line x1="209.94" y1="357.52" x2="213.14" y2="357.52" stroke="#000" stroke-width="0.9"/>
<circle cx="211.54" cy="354.88" r="2.08" fill="#fff" stroke="#999" stroke-width="0.7"/>
<path d="M209.46,354.88A2.08,2.08 0 0 0 213.62,354.88Z" fill="#999"/>
<circle cx="210.54" cy="356.87" r="2.08" fill="#fff" stroke="#999" stroke-width="0.7"/>
<path d="M208.46,356.87A2.08,2.08 0 0 0 212.62,356.87Z" fill="#999"/>
<circle cx="212.54" cy="358.86" r="2.08" fill="#fff" stroke="#999" stroke-width="0.7"/>
<path d="M210.46,358.86A2.08,2.08 0 0 0 214.62,358.86Z" fill="#999"/>
<rect x="219.14" y="353.13" width="5.20" height="21.17" fill="#fff" stroke="#000" stroke-width="1.4"/>
<line x1="221.74" y1="351.55" x2="221.74" y2="354.72" stroke="#000" stroke-width="0.9"/>
<line x1="220.14" y1="351.55" x2="223.34" y2="351.55" stroke="#000" stroke-width="0.9"/>
<line x1="220.14" y1="354.72" x2="223.34" y2="354.72" stroke="#000" stroke-width="0.9"/>
<rect x="219.66" y="349.81" width="4.16" height="4.16" fill="#000"/>
<rect x="218.66" y="352.30" width="4.16" height="4.16" fill="#000"/>
<rect x="220.66" y="355.29" width="4.16" height="4.16" fill="#000"/>
<rect x="236.51" y="355.38" width="5.20" height="18.92" fill="#fff" stroke="#000" stroke-width="1.4"/>
<line x1="239.11" y1="348.94" x2="239.11" y2="361.81" stroke="#000" stroke-width="0.9"/>
<line x1="237.51" y1="348.94" x2="240.71" y2="348.94" stroke="#000" stroke-width="0.9"/>
<line x1="237.51" y1="361.81" x2="240.71" y2="361.81" stroke="#000" stroke-width="0.9"/>
<circle cx="239.11" cy="344.42" r="2.08" fill="#000"/>
<circle cx="239.11" cy="351.89" r="2.08" fill="#000"/>
<circle cx="239.11" cy="366.33" r="2.08" fill="#000"/>
<rect x="246.71" y="308.07" width="5.20" height="66.23" fill="#fff" stroke="#000" stroke-width="1.4"/>
<line x1="249.31" y1="299.11" x2="249.31" y2="317.02" stroke="#000" stroke-width="0.9"/>
<line x1="247.71" y1="299.11" x2="250.91" y2="299.11" stroke="#000" stroke-width="0.9"/>
<line x1="247.71" y1="317.02" x2="250.91" y2="317.02" stroke="#000" stroke-width="0.9"/>
<path d="M247.51,295.10L249.85,299.78L245.17,299.78Z" fill="#000"/>
<path d="M251.11,296.59L253.45,301.27L248.77,301.27Z" fill="#000"/>
<path d="M249.31,322.69L251.65,327.37L246.97,327.37Z" fill="#000"/>
<rect x="256.91" y="349.90" width="5.20" height="24.40" fill="#fff" stroke="#000" stroke-width="1.4"/>
<line x1="259.51" y1="349.02" x2="259.51" y2="350.78" stroke="#000" stroke-width="0.9"/>
<line x1="257.91" y1="349.02" x2="261.11" y2="349.02" stroke="#000" stroke-width="0.9"/>
<line x1="257.91" y1="350.78" x2="261.11" y2="350.78" stroke="#000" stroke-width="0.9"/>
<circle cx="259.51" cy="348.90" r="2.08" fill="#fff" stroke="#999" stroke-width="0.7"/>
<path d="M257.43,348.90A2.08,2.08 0 0 0 261.59,348.90Z" fill="#999"/>
<circle cx="258.51" cy="350.89" r="2.08" fill="#fff" stroke="#999" stroke-width="0.7"/>
<path d="M256.43,350.89A2.08,2.08 0 0 0 260.59,350.89Z" fill="#999"/>
<circle cx="260.51" cy="351.89" r="2.08" fill="#fff" stroke="#999" stroke-width="0.7"/>
<path d="M258.43,351.89A2.08,2.08 0 0 0 262.59,351.89Z" fill="#999"/>
<rect x="267.11" y="347.41" width="5.20" height="26.89" fill="#fff" stroke="#000" stroke-width="1.4"/>
<line x1="269.71" y1="345.89" x2="269.71" y2="348.93" stroke="#000" stroke-width="0.9"/>
<line x1="268.11" y1="345.89" x2="271.31" y2="345.89" stroke="#000" stroke-width="0.9"/>
<line x1="268.11" y1="348.93" x2="271.31" y2="348.93" stroke="#000" stroke-width="0.9"/>
<rect x="267.63" y="342.84" width="4.16" height="4.16" fill="#000"/>
<rect x="268.63" y="346.82" width="4.16" height="4.16" fill="#000"/>
<rect x="266.63" y="347.82" width="4.16" height="4.16" fill="#000"/>
<line x1="91.20" y1="310.20" x2="107.20" y2="310.20" stroke="#000" stroke-width="1.2"/>
<text x="96.60" y="305.44" font-size="5.4" text-anchor="middle" fill="#000" style="font-family:'DejaVu Sans',sans-serif">&#9733;</text>
<text x="101.40" y="305.44" font-size="5.4" text-anchor="middle" fill="#000" style="font-family:'DejaVu Sans',sans-serif">&#9733;</text>
<line x1="139.10" y1="263.00" x2="154.80" y2="263.00" stroke="#000" stroke-width="1.2"/>
<text x="143.20" y="260.34" font-size="5.4" text-anchor="middle" fill="#000" style="font-family:'DejaVu Sans',sans-serif">&#9733;</text>
<text x="147.70" y="260.34" font-size="5.4" text-anchor="middle" fill="#000" style="font-family:'DejaVu Sans',sans-serif">&#9733;</text>
<text x="152.20" y="260.34" font-size="5.4" text-anchor="middle" fill="#000" style="font-family:'DejaVu Sans',sans-serif">&#9733;</text>
<line x1="187.40" y1="339.00" x2="203.10" y2="339.00" stroke="#000" stroke-width="1.2"/>
<text x="196.20" y="334.84" font-size="5.4" text-anchor="middle" fill="#000" style="font-family:'DejaVu Sans',sans-serif">&#9733;</text>
<line x1="237.50" y1="291.60" x2="253.60" y2="291.60" stroke="#000" stroke-width="1.2"/>
<text x="244.50" y="288.84" font-size="5.4" text-anchor="middle" fill="#000" style="font-family:'DejaVu Sans',sans-serif">&#9733;</text>
<text x="249.10" y="288.84" font-size="5.4" text-anchor="middle" fill="#000" style="font-family:'DejaVu Sans',sans-serif">&#9733;</text>
<text x="274.90" y="202.60" font-size="17" text-anchor="start" fill="#111" >e</text>
<text x="0" y="0" font-size="9" fill="#111" transform="translate(339.20,250.4) rotate(-90)">ScrNG</text>
<text x="0" y="0" font-size="9" fill="#111" transform="translate(361.20,250.4) rotate(-90)">ScrHG</text>
<text x="0" y="0" font-size="8.3" fill="#111" transform="translate(381.40,250.4) rotate(-90)">GPRshRNA NG</text>
<text x="0" y="0" font-size="8.3" fill="#111" transform="translate(403.10,250.4) rotate(-90)">GPRshRNA HG</text>
<rect x="320.10" y="256.40" width="96.70" height="24.10" fill="#f1f1f1" stroke="#2a2a2a" stroke-width="1.4"/>
<text x="316.80" y="275.30" font-size="10" text-anchor="end" fill="#111" style="stroke-width:0.05px">40kD</text>
<text x="420.60" y="274.90" font-size="8.5" text-anchor="start" fill="#111" style="stroke-width:0.05px">MCT1</text>
<rect x="320.50" y="282.60" width="96.30" height="22.90" fill="#f3f3f3" stroke="#2a2a2a" stroke-width="1.4"/>
<text x="316.80" y="300.60" font-size="10" text-anchor="end" fill="#111" style="stroke-width:0.05px">42kD</text>
<text x="419.60" y="299.70" font-size="8.5" text-anchor="start" fill="#111" style="stroke-width:0.05px">MCT4</text>
<rect x="320.60" y="308.90" width="96.20" height="21.10" fill="#f3f3f3" stroke="#2a2a2a" stroke-width="1.4"/>
<text x="316.80" y="324.90" font-size="10" text-anchor="end" fill="#111" style="stroke-width:0.05px">140kD</text>
<text x="420.60" y="323.40" font-size="8.5" text-anchor="start" fill="#111" style="stroke-width:0.05px">PGC</text>
<rect x="322.70" y="333.10" width="94.10" height="19.90" fill="#f3f3f3" stroke="#2a2a2a" stroke-width="1.4"/>
<text x="316.80" y="346.90" font-size="10" text-anchor="end" fill="#111" style="stroke-width:0.05px">55kD</text>
<text x="420.60" y="347.00" font-size="8.5" text-anchor="start" fill="#111" style="stroke-width:0.05px">CD147</text>
<rect x="321.10" y="354.00" width="95.70" height="27.40" fill="#f3f3f3" stroke="#2a2a2a" stroke-width="1.4"/>
<text x="316.80" y="368.50" font-size="10" text-anchor="end" fill="#111" style="stroke-width:0.05px">43kD</text>
<text x="420.60" y="367.80" font-size="9.5" text-anchor="start" fill="#111" style="stroke-width:0.05px">βactin</text>
<rect x="329.80" y="271.00" width="14.60" height="4.40" rx="2.43" ry="2.20" fill="#000" opacity="1.0" filter="url(#b6)"/>
<rect x="349.50" y="269.90" width="17.70" height="5.40" rx="2.95" ry="2.70" fill="#000" opacity="1.0" filter="url(#b6)"/>
<rect x="372.70" y="271.30" width="13.90" height="2.20" rx="2.32" ry="1.10" fill="#d6d6d6" opacity="1.0" filter="url(#b8)"/>
<rect x="395.00" y="270.10" width="13.90" height="2.40" rx="2.32" ry="1.20" fill="#cccccc" opacity="1.0" filter="url(#b8)"/>
<rect x="325.20" y="293.60" width="16.30" height="2.80" rx="2.72" ry="1.40" fill="#000" opacity="1.0" filter="url(#b5)"/>
<rect x="348.10" y="293.40" width="18.90" height="3.20" rx="3.00" ry="1.60" fill="#000" opacity="1.0" filter="url(#b5)"/>
<rect x="372.00" y="294.70" width="16.00" height="1.60" rx="2.67" ry="0.80" fill="#d4d4d4" opacity="1.0" filter="url(#b7)"/>
<rect x="395.00" y="294.70" width="15.00" height="1.60" rx="2.50" ry="0.80" fill="#dadada" opacity="1.0" filter="url(#b7)"/>
<rect x="326.1" y="317.0" width="14.7" height="9.0" rx="2" fill="url(#sm1)" filter="url(#b8)"/>
<rect x="350.6" y="315.8" width="14.7" height="10.2" rx="2" fill="url(#sm2)" filter="url(#b8)"/>
<rect x="331.20" y="340.20" width="14.30" height="4.00" rx="2.38" ry="2.00" fill="#cdcdcd" opacity="1.0" filter="url(#b10)"/>
<rect x="351.60" y="342.10" width="14.30" height="4.20" rx="2.38" ry="2.10" fill="#a0a0a0" opacity="1.0" filter="url(#b10)"/>
<rect x="372.00" y="344.00" width="14.20" height="3.60" rx="2.37" ry="1.80" fill="#e4e4e4" opacity="1.0" filter="url(#b10)"/>
<rect x="393.40" y="343.90" width="14.20" height="4.20" rx="2.37" ry="2.10" fill="#e0e0e0" opacity="1.0" filter="url(#b10)"/>
<rect x="328.20" y="368.30" width="15.30" height="4.60" rx="2.55" ry="2.30" fill="#000" opacity="1.0" filter="url(#b6)"/>
<rect x="350.70" y="368.40" width="15.70" height="4.00" rx="2.62" ry="2.00" fill="#111" opacity="1.0" filter="url(#b6)"/>
<rect x="372.80" y="368.30" width="16.60" height="4.20" rx="2.77" ry="2.10" fill="#000" opacity="1.0" filter="url(#b6)"/>
<rect x="396.50" y="367.60" width="17.00" height="4.80" rx="2.83" ry="2.40" fill="#000" opacity="1.0" filter="url(#b6)"/>
</svg>
</body></html>
